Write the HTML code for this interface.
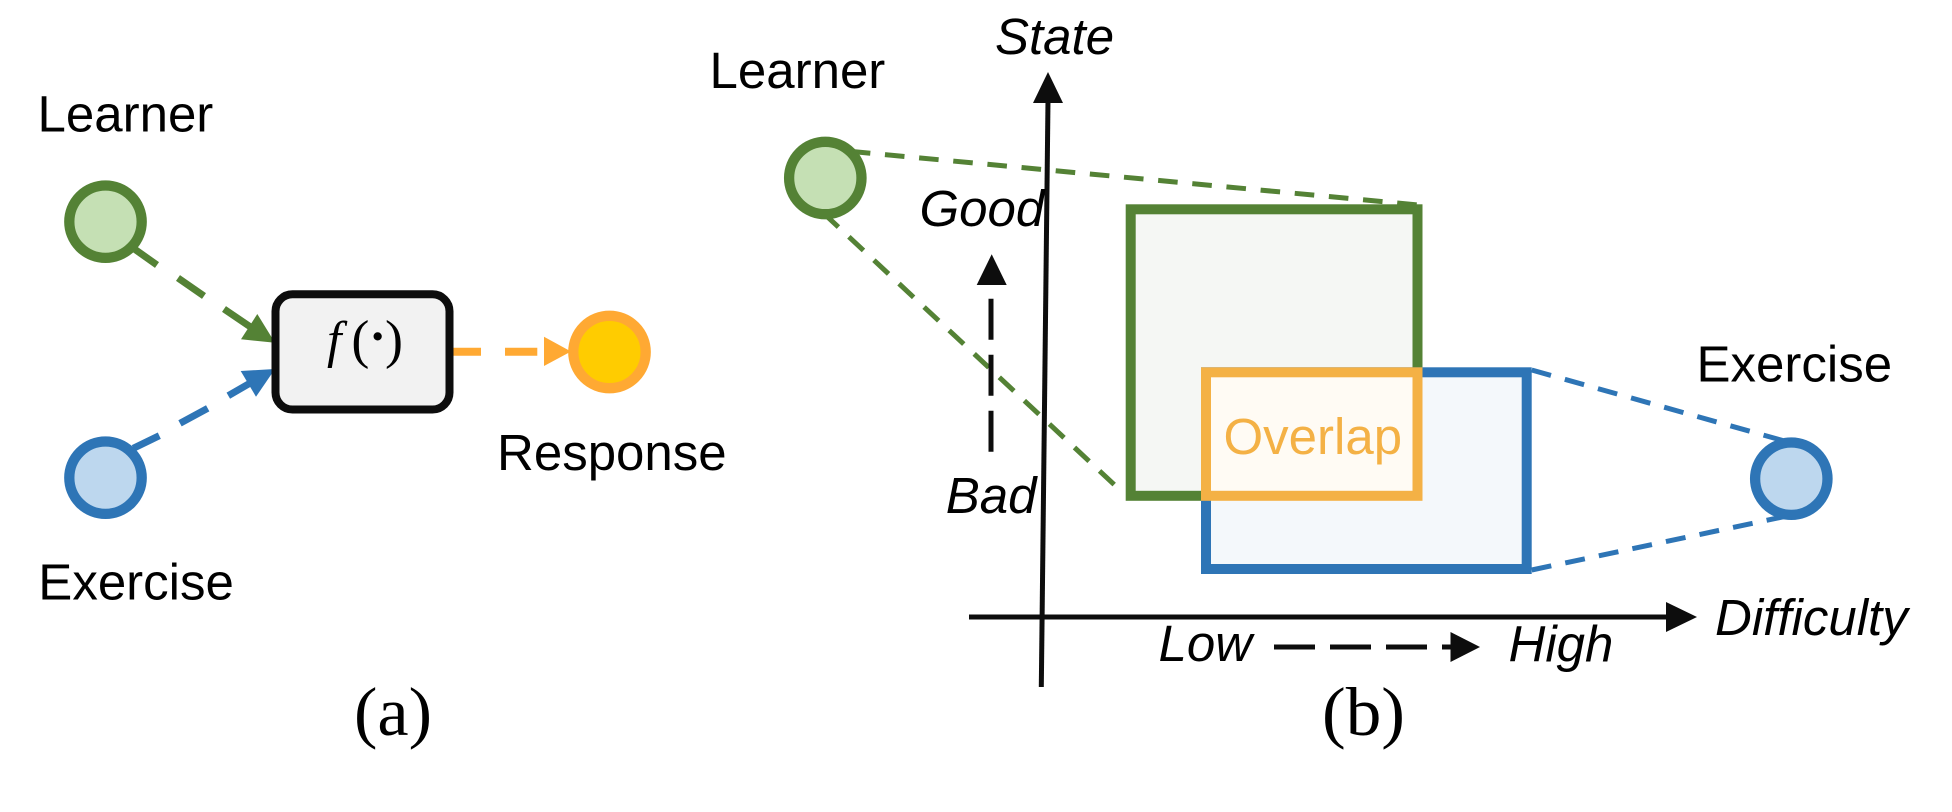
<!DOCTYPE html>
<html lang="en">
<head>
<meta charset="utf-8">
<title>Diagram</title>
<style>
html,body{margin:0;padding:0;background:#fff;width:1952px;height:812px;overflow:hidden}
svg{display:block}
text{font-family:"Liberation Sans",Arial,sans-serif;fill:#000;font-size:51px;font-kerning:none;font-variant-ligatures:none}
.i{font-style:italic}
.s{font-family:"Liberation Serif","Times New Roman",serif}
</style>
</head>
<body>
<svg width="1952" height="812" viewBox="0 0 1952 812" xmlns="http://www.w3.org/2000/svg">
<rect width="1952" height="812" fill="#fff"/>

<!-- (a) connectors -->
<g stroke="#548235" stroke-width="7" fill="none">
<line x1="133" y1="248" x2="157" y2="265"/>
<line x1="178" y1="278" x2="204" y2="296"/>
<line x1="224" y1="309" x2="252" y2="328"/>
</g>
<polygon points="275,342.700 257.300,314 241,339.300" fill="#548235"/>
<g stroke="#2E75B6" stroke-width="7" fill="none">
<line x1="133.300" y1="448.300" x2="159.300" y2="435.700"/>
<line x1="180" y1="423.300" x2="207.700" y2="408.300"/>
<line x1="228.300" y1="395.700" x2="252" y2="382"/>
</g>
<polygon points="275,369 240.700,371 256,396.700" fill="#2E75B6"/>
<g stroke="#FFA933" stroke-width="8" fill="none">
<line x1="449.300" y1="351.700" x2="481" y2="351.700"/>
<line x1="505" y1="351.700" x2="537.300" y2="351.700"/>
</g>
<polygon points="544,336.700 571,351.500 544,366" fill="#FFA933"/>

<!-- (a) nodes -->
<circle cx="105.500" cy="221.700" r="36.200" fill="#C5E0B4" stroke="#548235" stroke-width="10.300"/>
<circle cx="105.500" cy="477.700" r="36.200" fill="#BDD7EE" stroke="#2E75B6" stroke-width="10.300"/>
<circle cx="609.500" cy="352" r="36.200" fill="#FFCC00" stroke="#FFA933" stroke-width="10.300"/>
<rect x="275.500" y="294.300" width="174" height="115.200" rx="17" ry="17" fill="#F2F2F2" stroke="#0D0D0D" stroke-width="8"/>

<!-- (a) math -->
<text class="s i" x="327" y="357" style="font-size:52px">f</text>
<text class="s" x="351.400" y="357.700" style="font-size:54px">(</text>
<text class="s" x="377.700" y="359.500" style="font-size:70px" text-anchor="middle">·</text>
<text class="s" x="385" y="357.700" style="font-size:54px">)</text>

<!-- (a) labels -->
<text x="37.500" y="131.500">Learner</text>
<text x="38.300" y="599.500">Exercise</text>
<text x="497" y="470">Response</text>
<text class="s" x="354" y="735" style="font-size:69px" textLength="78" lengthAdjust="spacingAndGlyphs">(a)</text>

<!-- (b) rects -->
<rect x="1130.700" y="209.300" width="286.800" height="286.500" fill="#F5F7F4" stroke="#548235" stroke-width="10"/>
<rect x="1206" y="372.300" width="320.700" height="196.700" fill="#F4F8FB" stroke="#2E75B6" stroke-width="10"/>
<rect x="1206" y="372.300" width="211.500" height="123.500" fill="#FFFBF4" stroke="#F4B145" stroke-width="10"/>

<!-- (b) dashed connectors -->
<g fill="none" stroke-width="5">
<line x1="850.800" y1="151.400" x2="1425" y2="205.600" stroke="#548235" stroke-dasharray="19.600 14.700"/>
<line x1="823.800" y1="213.400" x2="1115.700" y2="486" stroke="#548235" stroke-dasharray="20 14.300"/>
<line x1="1531.700" y1="370" x2="1787" y2="441.700" stroke="#2E75B6" stroke-dasharray="20 14.400"/>
<line x1="1531.700" y1="570" x2="1787" y2="516" stroke="#2E75B6" stroke-dasharray="20 14.300"/>
</g>

<!-- (b) nodes -->
<circle cx="825.300" cy="178" r="36.200" fill="#C5E0B4" stroke="#548235" stroke-width="10.300"/>
<circle cx="1791.300" cy="478.700" r="36.200" fill="#BDD7EE" stroke="#2E75B6" stroke-width="10.300"/>

<!-- axes -->
<line x1="1041.300" y1="687" x2="1048" y2="100" stroke="#0D0D0D" stroke-width="5"/>
<polygon points="1048,72 1063,103 1033,103" fill="#0D0D0D"/>
<line x1="969" y1="617" x2="1668" y2="617" stroke="#0D0D0D" stroke-width="5"/>
<polygon points="1697,617 1666,602 1666,632" fill="#0D0D0D"/>

<!-- direction arrows -->
<line x1="991" y1="451.700" x2="991" y2="298.300" stroke="#0D0D0D" stroke-width="5" stroke-dasharray="41 15"/>
<polygon points="991.700,254.300 1006.700,285 976.700,285" fill="#0D0D0D"/>
<line x1="1274" y1="647" x2="1452" y2="647" stroke="#0D0D0D" stroke-width="5" stroke-dasharray="41 15"/>
<polygon points="1480,647 1450.500,632 1450.500,662" fill="#0D0D0D"/>

<!-- (b) labels -->
<text x="709.500" y="88">Learner</text>
<text class="i" x="995" y="54">State</text>
<text class="i" x="919.500" y="226">Good</text>
<text class="i" x="945.700" y="513">Bad</text>
<text x="1223.500" y="454" style="fill:#F4B145">Overlap</text>
<text x="1696.500" y="381.700">Exercise</text>
<text class="i" x="1715" y="635">Difficulty</text>
<text class="i" x="1158.500" y="661">Low</text>
<text class="i" x="1508.500" y="661.700">High</text>
<text class="s" x="1322" y="735" style="font-size:69px" textLength="83" lengthAdjust="spacingAndGlyphs">(b)</text>
</svg>
</body>
</html>
